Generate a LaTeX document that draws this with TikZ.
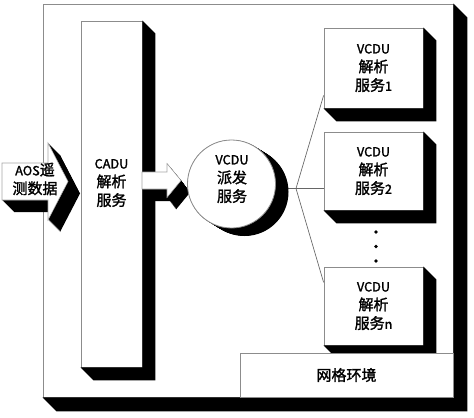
\documentclass[tikz,border=0pt]{standalone}
\usepackage{fontspec}
\newfontfamily\cjk[FakeBold=1.6]{Noto Sans CJK SC}
\usetikzlibrary{calc,fit}
\newcommand\lat[1]{{\fontsize{9.5}{14}\selectfont #1}}
\newcommand\boxshade[2]{\fill[black] (#1.north east) -- ($(#1.north east)+(#2,#2)$) -- ($(#1.south east)+(#2,#2)$) -- ($(#1.south west)+(#2,#2)$) -- (#1.south west) -- (#1.south east) -- cycle;}
\tikzset{
  box/.style={draw=black!45, line width=0.6pt, fill=white, inner sep=0pt},
  txt/.style={inner sep=0pt, align=center, text=black, font={\cjk\fontsize{11.25}{14}\selectfont}},
  arrowbody/.style={fill=white, draw=black!35, line width=0.4pt},
  dotmark/.style={circle, fill=black, inner sep=0pt, minimum size=2.8pt},
}
\begin{document}
\begin{tikzpicture}[x=0.75pt,y=-0.75pt]
\useasboundingbox (0,0) rectangle (474,417);
% outer frame
\node[box, fit={(43,4)(453,397)}] (outer) {};
\boxshade{outer}{14}
% input arrow
\foreach \i in {0,0.5,...,12}
  \fill[black, shift={(\i,\i)}] (2,163) -- (48,163) -- (48,143) -- (68,181.5) -- (48,220) -- (48,200) -- (2,200) -- cycle;
\filldraw[arrowbody] (2,163) -- (48,163) -- (48,143) -- (68,181.5) -- (48,220) -- (48,200) -- (2,200) -- cycle;
\node[txt] (aos) at (35,179) {\lat{AOS}遥\\测数据};
% CADU
\node[box, fit={(81,21)(142,367)}] (cadu) {};
\boxshade{cadu}{13}
\node[txt] (cadutext) at (111.5,183) {\lat{CADU}\\解析\\服务};
% middle arrow
\foreach \i in {0,0.5,...,12}
  \fill[black, shift={(\i*0.75,\i)}] (142,172) -- (167,172) -- (167,163.5) -- (181,180.5) -- (167,197.5) -- (167,189) -- (142,189) -- cycle;
\filldraw[arrowbody] (142,172) -- (167,172) -- (167,163.5) -- (181,180.5) -- (167,197.5) -- (167,189) -- (142,189) -- cycle;
% VCDU parse boxes
\node[box, fit={(324,28)(423,108)}] (b1) {};
\boxshade{b1}{13}
\node[txt] at (b1) (b1text) {\lat{VCDU}\\解析\\服务\lat{1}};
\node[box, fit={(324,132)(423,210)}] (b2) {};
\boxshade{b2}{13}
\node[txt] at (b2) (b2text) {\lat{VCDU}\\解析\\服务\lat{2}};
\node[box, fit={(324,267)(423,345)}] (bn) {};
\boxshade{bn}{13}
\node[txt] at (bn) (bntext) {\lat{VCDU}\\解析\\服务\lat{n}};
% connectors
\coordinate (vc) at (231.5,184);
\coordinate (br) at (296,188.5);
\draw[black!60, line width=0.5pt] (vc |- br) -- (br) -- (br -| b2.west);
\draw[black!60, line width=0.5pt] (br) -- ($(b1.south west)!0.16!(b1.north west)$);
\draw[black!60, line width=0.5pt] (br) -- ($(bn.north west)!0.2!(bn.south west)$);
% VCDU dispatch circle
\foreach \i in {0,0.5,...,13}
  \fill[black] ($(vc)+(\i,\i*8/13)$) circle[radius=33pt];
\node[circle, draw=black!45, line width=0.6pt, fill=white, minimum size=66pt, inner sep=0pt] (vcdu) at (vc) {};
\node[txt] (vcdutext) at (232,179) {\lat{VCDU}\\派发\\服务};
% dots
\node[dotmark] (d1) at (376,232) {};
\node[dotmark] (d2) at (376,246.5) {};
\node[dotmark] (d3) at (376,261) {};
% grid environment
\node[box, fit={(240,353)(453,397)}] (grid) {};
\node[txt] at (grid) (gridtext) {网格环境};
\end{tikzpicture}
\end{document}
